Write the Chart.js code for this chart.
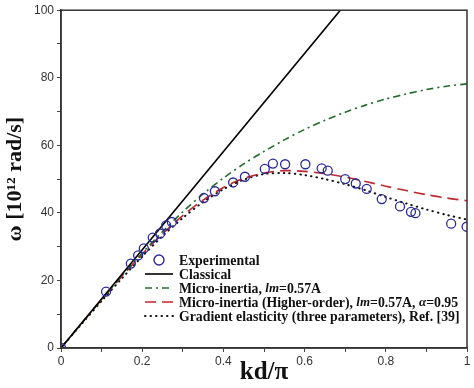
<!DOCTYPE html>
<html>
<head>
<meta charset="utf-8">
<script src="https://cdn.jsdelivr.net/npm/chart.js@4.4.0/dist/chart.umd.min.js"></script>
<style>
  html, body { margin: 0; padding: 0; background: #fff; }
  #wrap { width: 474px; height: 388px; }
</style>
</head>
<body>
<div id="wrap"><canvas id="grafica"></canvas></div>
<script>
// Valores
const expKd = [0, 0.111, 0.172, 0.19, 0.204, 0.226, 0.244, 0.259, 0.273, 0.352, 0.379, 0.424, 0.453,
    0.502, 0.522, 0.552, 0.602, 0.642, 0.657, 0.70, 0.726, 0.753, 0.79, 0.835, 0.862, 0.873, 0.961, 0.999];
const expOmega = [0, 16.7, 25, 27.4, 29.5, 32.7, 33.9, 36.3, 37.3, 44.4, 46.4, 49, 50.7,
    53, 54.6, 54.4, 54.4, 53.2, 52.5, 50, 48.7, 47.1, 44.1, 41.9, 40.3, 39.9, 36.8, 35.9];

const clasicoKd = [0, 0.688];
const clasicoOmega = [0, 100];

const curvaKd = [0, 0.05, 0.1, 0.15, 0.2, 0.25, 0.3, 0.35, 0.4, 0.45, 0.5,
    0.55, 0.6, 0.65, 0.7, 0.75, 0.8, 0.85, 0.9, 0.95, 1];
const microOmega = [0, 7.2, 14.4, 21.4, 28.1, 34.4, 40.3, 45.6, 50.3, 54.5, 58.2,
    61.6, 64.7, 67.4, 69.8, 71.9, 73.7, 75.2, 76.5, 77.5, 78.2];
const superiorOmega = [0, 7.2, 14.3, 21.2, 27.8, 33.8, 39.2, 43.8, 47.5, 50.2, 51.8,
    52.5, 52.3, 51.6, 50.6, 49.3, 47.9, 46.6, 45.4, 44.4, 43.6];
const gradienteOmega = [0, 7, 13.9, 20.6, 27.1, 33.1, 38.5, 43.2, 47, 49.8, 51.5,
    51.8, 51.2, 50, 48.5, 46.7, 44.7, 42.8, 41, 39.4, 38];

const ticksX = [0, 0.2, 0.4, 0.6, 0.8, 1];
const ticksY = [0, 20, 40, 60, 80, 100];

const etiquetas = [
    'Experimental',
    'Classical',
    'Micro-inertia, lm=0.57A',
    'Micro-inertia (Higher-order), lm=0.57A, α=0.95',
    'Gradient elasticity (three parameters), Ref. [39]'
];

const puntos = (xs, ys) => xs.map((x, i) => ({ x: x, y: ys[i] }));

// Marco completo alrededor del área de la gráfica
const marco = {
    id: 'marco',
    afterDraw(chart) {
        const { ctx, chartArea: a } = chart;
        ctx.save();
        ctx.strokeStyle = '#333';
        ctx.lineWidth = 1.5;
        ctx.strokeRect(a.left, a.top, a.right - a.left, a.bottom - a.top);
        ctx.restore();
    }
};

// Dibuja un texto con "lm" y "α" en cursiva
function textoMixto(ctx, texto, x, y) {
    const partes = texto.split(/(lm|α)/);
    partes.forEach(p => {
        if (!p) return;
        if (p === 'lm' || p === 'α') {
            ctx.font = 'italic bold 13px "Liberation Serif"';
        } else {
            ctx.font = 'bold 13.8px "Liberation Serif"';
        }
        ctx.fillText(p, x, y);
        x += ctx.measureText(p).width;
    });
}

// Leyenda dentro del área de la gráfica
const leyenda = {
    id: 'leyenda',
    afterDraw(chart) {
        const { ctx } = chart;
        const x0 = 145, x1 = 173, xt = 179;
        const filas = [260, 274, 288, 302, 316];
        ctx.save();
        ctx.textBaseline = 'middle';
        ctx.fillStyle = '#111';
        chart.data.datasets.forEach((ds, i) => {
            const y = filas[i];
            ctx.save();
            if (i === 0) {
                ctx.beginPath();
                ctx.arc((x0 + x1) / 2, y, 5, 0, Math.PI * 2);
                ctx.strokeStyle = ds.pointBorderColor;
                ctx.lineWidth = 1.4;
                ctx.stroke();
            } else {
                ctx.beginPath();
                ctx.setLineDash(ds.borderDash || []);
                ctx.lineCap = ds.borderCapStyle || 'butt';
                ctx.strokeStyle = ds.borderColor;
                ctx.lineWidth = ds.borderWidth;
                ctx.moveTo(x0, y);
                ctx.lineTo(x1, y);
                ctx.stroke();
            }
            ctx.restore();
            textoMixto(ctx, ds.label, xt, y + 1);
        });
        ctx.restore();
    }
};

const ctx = document.getElementById('grafica').getContext('2d');

new Chart(ctx, {
    type: 'scatter',
    data: {
        datasets: [
            {
                label: etiquetas[0],
                data: puntos(expKd, expOmega),
                showLine: false,
                pointRadius: 4.5,
                pointBorderWidth: 1.3,
                pointBorderColor: '#2a2a96',
                pointBackgroundColor: 'rgba(0,0,0,0)',
                order: 0
            },
            {
                label: etiquetas[1],
                data: puntos(clasicoKd, clasicoOmega),
                showLine: true,
                borderColor: '#000',
                borderWidth: 1.6,
                pointRadius: 0,
                order: 1
            },
            {
                label: etiquetas[2],
                data: puntos(curvaKd, microOmega),
                showLine: true,
                borderColor: '#1f6e2a',
                borderWidth: 1.6,
                borderDash: [7, 4, 2, 4],
                tension: 0.3,
                pointRadius: 0,
                order: 2
            },
            {
                label: etiquetas[3],
                data: puntos(curvaKd, superiorOmega),
                showLine: true,
                borderColor: '#c1272d',
                borderWidth: 1.6,
                borderDash: [11, 6],
                tension: 0.3,
                pointRadius: 0,
                order: 3
            },
            {
                label: etiquetas[4],
                data: puntos(curvaKd, gradienteOmega),
                showLine: true,
                borderColor: '#111',
                borderWidth: 2,
                borderDash: [0.5, 5],
                borderCapStyle: 'round',
                tension: 0.3,
                pointRadius: 0,
                order: 4
            }
        ]
    },
    options: {
        responsive: true,
        maintainAspectRatio: false,
        animation: false,
        layout: { padding: { top: 5, right: 7, left: 0, bottom: 0 } },
        plugins: {
            legend: { display: false },
            tooltip: { enabled: false }
        },
        scales: {
            x: {
                type: 'linear',
                min: 0,
                max: 1,
                afterBuildTicks: s => { s.ticks = curvaKd.filter((v, i) => i % 2 === 0).map(v => ({ value: v })); },
                afterFit: s => { s.height = 40; },
                grid: { drawOnChartArea: false, drawTicks: true, tickLength: 4, color: '#444' },
                border: { display: true, color: '#333', width: 1.5 },
                ticks: {
                    color: '#333',
                    padding: 2,
                    maxRotation: 0,
                    font: { family: '"Liberation Sans"', size: 12 },
                    callback: v => ticksX.some(t => Math.abs(t - v) < 1e-6) ? String(+v.toFixed(1)) : ''
                },
                title: {
                    display: true,
                    text: 'kd/π',
                    color: '#111',
                    padding: { top: 0, bottom: 0 },
                    font: { family: '"Liberation Serif"', size: 25, weight: 'bold' }
                }
            },
            y: {
                type: 'linear',
                min: 0,
                max: 100,
                afterBuildTicks: s => {
                    const t = [];
                    for (let v = 0; v <= 100; v += 10) t.push({ value: v });
                    s.ticks = t;
                },
                afterFit: s => { s.width = 61; },
                grid: { drawOnChartArea: false, drawTicks: true, tickLength: 4, color: '#444' },
                border: { display: true, color: '#333', width: 1.5 },
                ticks: {
                    color: '#333',
                    padding: 3,
                    font: { family: '"Liberation Sans"', size: 12 },
                    callback: v => ticksY.includes(v) ? String(v) : ''
                },
                title: {
                    display: true,
                    text: 'ω [10¹² rad/s]',
                    color: '#111',
                    padding: { top: 2, bottom: 4 },
                    font: { family: '"Liberation Serif"', size: 22, weight: 'bold' }
                }
            }
        }
    },
    plugins: [marco, leyenda]
});
</script>
</body>
</html>
